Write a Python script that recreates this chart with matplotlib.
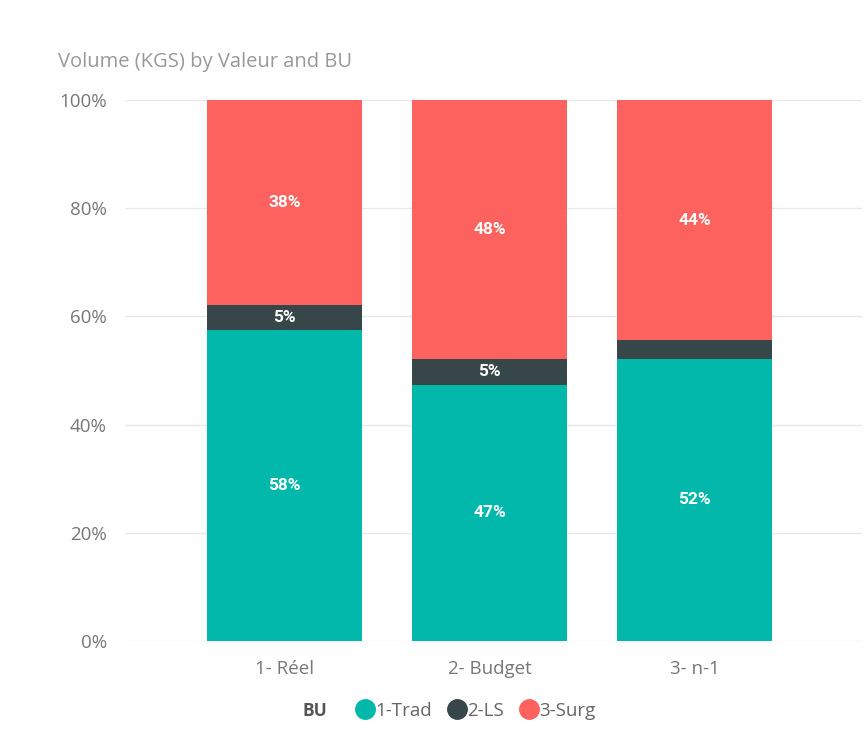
import numpy as np
import matplotlib.pyplot as plt
from matplotlib.lines import Line2D

categories = ['1- Réel', '2- Budget', '3- n-1']
series = ['1-Trad', '2-LS', '3-Surg']
trad = [57.5, 47.4, 52.2]
ls = [4.6, 4.7, 3.4]
surg = [37.9, 47.9, 44.4]
labels_trad = ['58%', '47%', '52%']
labels_ls = ['5%', '5%', '']
labels_surg = ['38%', '48%', '44%']

colors = ['#01B8AA', '#374649', '#FD625E']
font = ['Open Sans', 'DejaVu Sans']
plt.rcParams['font.family'] = font

fig = plt.figure(figsize=(8.64, 7.37), dpi=100)
ax = fig.add_axes([125/864, 1-641/737, 737/864, 541/737])

x = np.arange(len(categories))
w = 155/205
values = [trad, ls, surg]
texts = [labels_trad, labels_ls, labels_surg]
bottom = np.zeros(len(categories))
for vals, lab, c in zip(values, texts, colors):
    vals = np.array(vals)
    ax.bar(x, vals, w, bottom=bottom, color=c, zorder=2)
    for xi, b, v, t in zip(x, bottom, vals, lab):
        if t:
            ax.text(xi, b + v/2, t, ha='center', va='center', color='white',
                    fontsize=12.5, fontweight='bold', family=['Roboto', 'DejaVu Sans'], zorder=3)
    bottom += vals

ax.set_xlim(-159.5/205, 2 + 167.5/205)
ax.set_ylim(0, 100)
ax.set_yticks([0, 20, 40, 60, 80, 100])
ax.set_yticklabels(['%d%%' % v for v in [0, 20, 40, 60, 80, 100]])
ax.set_xticks(x)
ax.set_xticklabels(categories)
ax.grid(axis='y', color='#E8E8E8', linewidth=1, zorder=0)
for s in ax.spines.values():
    s.set_visible(False)
ax.tick_params(axis='both', length=0, colors='#777777', labelsize=13.5)
ax.tick_params(axis='y', pad=13)
ax.tick_params(axis='x', pad=14)

fig.text(58/864, 1-62/737, 'Volume (KGS) by Valeur and BU', color='#999999',
         fontsize=14.5, ha='left', va='center')

fig.text(303/864, 1-711/737, 'BU', color='#555555', fontsize=12.5,
         fontweight='bold', ha='left', va='center')
handles = [Line2D([], [], marker='o', linestyle='', markersize=14, color=c) for c in colors]
leg = fig.legend(handles, series, loc='center left', bbox_to_anchor=(343/864, 1-711/737),
                 ncol=3, frameon=False, handletextpad=-0.2, columnspacing=0.6,
                 fontsize=13.5, handlelength=1.5, borderaxespad=0)
for t in leg.get_texts():
    t.set_color('#666666')

fig.savefig('out.png', dpi=100)
